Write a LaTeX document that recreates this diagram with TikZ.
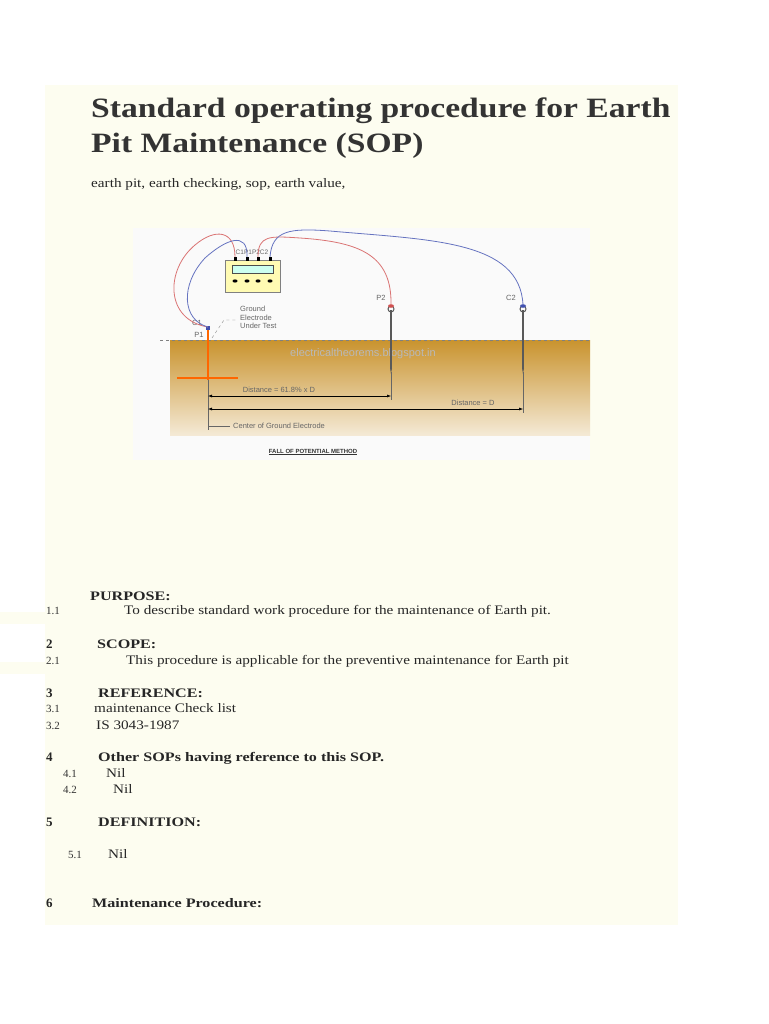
\documentclass[tikz,border=0pt]{standalone}
\usepackage{fontspec}
\setmainfont{Liberation Serif}
\newfontfamily\sansf{Liberation Sans}
\usetikzlibrary{arrows.meta}
\definecolor{cream}{HTML}{FDFDF0}
\definecolor{soil}{HTML}{C9932E}
\definecolor{wred}{HTML}{D05050}
\definecolor{wblue}{HTML}{4050B0}
\newcommand\wbody[1]{\scalebox{1.17}[1]{#1}}
\newcommand\wbold[1]{\scalebox{1.24}[1]{#1}}
\tikzset{
 body/.style={anchor=base west,font=\fontsize{13}{15}\selectfont,inner sep=0,text=black!85},
 num/.style={anchor=base west,font=\fontsize{11}{13}\selectfont,inner sep=0,text=black!80},
 head/.style={anchor=base west,font=\fontsize{13}{15}\selectfont\bfseries,inner sep=0,text=black!85},
 lbl/.style={font=\sansf\fontsize{7.5}{8.5}\selectfont,text=gray!80!black,inner sep=0},
 redw/.style={wred!80,line width=0.8pt},
 bluew/.style={wblue!80,line width=0.8pt},
 dim/.style={line width=0.5pt},
}
\begin{document}
\begin{tikzpicture}[x=1pt,y=-1pt]
\useasboundingbox (0,0) rectangle (768,1024);
\fill[white] (0,0) rectangle (768,1024);
\fill[cream] (45,85) rectangle (678,925);
\fill[cream] (0,612) rectangle (45,624);
\fill[cream] (0,662) rectangle (45,674);
% title
\node[anchor=base west,inner sep=0,font=\fontsize{28}{32}\selectfont\bfseries,text=black!80] (t1) at (91,118) {\scalebox{1.2}[1]{Standard operating procedure for Earth}};
\node[anchor=base west,inner sep=0,font=\fontsize{28}{32}\selectfont\bfseries,text=black!80] (t2) at (91,153) {\scalebox{1.2}[1]{Pit Maintenance (SOP)}};
\node[body] (tags) at (91,188) {\wbody{earth pit, earth checking, sop, earth value,}};
% diagram
\fill[white!96!gray] (133,228) rectangle (590,460);
\shade[top color=soil,bottom color=soil!20] (170,340) rectangle (590,435);
\draw[gray,dashed,line width=0.4pt] (160,340) -- (590,340);
\node[font=\sansf\fontsize{11}{12}\selectfont,text=gray!55] (wm) at (363,354) {electricaltheorems.blogspot.in};
% instrument
\node[draw=gray,fill=yellow!30,minimum width=55pt,minimum height=32pt,inner sep=0] (meter) at (252.5,276) {};
\node[draw=black!70,fill=green!30!cyan!20,minimum width=41pt,minimum height=8pt,inner sep=0] (screen) at (252.5,269) {};
\foreach \i/\x in {1/235,2/247,3/258,4/270}{
 \fill (\x,281) ellipse (2.5pt and 1.6pt);
 \fill (\x-1.5,257) rectangle (\x+1.5,261);
 \coordinate (T\i) at (\x,257);
}
\node[lbl,font=\sansf\fontsize{6.5}{7}\selectfont] (tl) at (252,252) {C1P1P2C2};
% electrode
\draw[orange!80!red,line width=2.5pt] (208,330) -- (208,380);
\draw[orange!80!red,line width=2.5pt] (177,378) -- (238,378);
\fill[wblue] (206,326) rectangle (210,330);
\coordinate (E) at (208,327);
\node[lbl] (c1) at (197,323) {C1};
\node[lbl] (p1) at (199,335) {P1};
\node[lbl,align=left,anchor=north west] (gl) at (240,306) {Ground\\Electrode\\Under Test};
\draw[gray,line width=0.3pt,dashed] (212,338) -- (224,320) -- (238,320);
% spikes
\foreach \n/\x in {P2/391,C2/523}{
 \draw[gray!70!black,line width=2pt] (\x,310) -- (\x,368);
 \fill[gray!70!black] (\x-1,368) -- (\x,374) -- (\x+1,368);
 \draw[gray!70!black,line width=1pt] (\x,309) circle (3pt);
}
\fill[wred] (391,306) ellipse (3pt and 1.8pt);
\fill[wblue] (523,306) ellipse (3pt and 1.8pt);
\coordinate (S2) at (391,305);
\coordinate (S3) at (523,305);
\node[lbl] (p2l) at (381,298) {P2};
\node[lbl] (c2l) at (511,298) {C2};
% wires
\draw[redw] (T1) .. controls (235,230) and (215,228) .. (195,245) .. controls (165,270) and (165,320) .. (E);
\draw[bluew] (T2) .. controls (248,230) and (225,240) .. (205,258) .. controls (180,285) and (182,320) .. (E);
\draw[redw] (T3) .. controls (258,235) and (270,236) .. (300,238) .. controls (360,242) and (392,255) .. (S2);
\draw[bluew] (T4) .. controls (272,230) and (290,228) .. (330,231) .. controls (430,240) and (520,240) .. (S3);
% dimensions
\draw[gray!80!black,line width=0.4pt] (208,380) -- (208,430);
\draw[gray!80!black,line width=0.4pt] (391,372) -- (391,400);
\draw[gray!80!black,line width=0.4pt] (523,372) -- (523,413);
\draw[dim,{Latex[length=4pt]}-{Latex[length=4pt]}] (208,396) -- (391,396);
\draw[dim,{Latex[length=4pt]}-{Latex[length=4pt]}] (208,409) -- (523,409);
\node[lbl] (d1) at (279,390) {Distance = 61.8\% x D};
\node[lbl] (d2) at (473,403) {Distance = D};
\draw[gray!80!black,line width=0.4pt] (208,426) -- (230,426);
\node[lbl,anchor=west] (cge) at (233,426) {Center of Ground Electrode};
\node[lbl,font=\sansf\bfseries\fontsize{6}{7}\selectfont,text=black!80] (cap) at (313,452) {\underline{FALL OF POTENTIAL METHOD}};
% body text
\node[head] (h1) at (90,600) {\wbold{PURPOSE:}};
\node[num] (n11) at (46,614) {1.1};
\node[body] (b11) at (124,614) {\wbody{To describe standard work procedure for the maintenance of Earth pit.}};
\node[head] (n2) at (46,648) {2};
\node[head] (h2) at (97,648) {\wbold{SCOPE:}};
\node[num] (n21) at (46,664) {2.1};
\node[body] (b21) at (126,664) {\wbody{This procedure is applicable for the preventive maintenance for Earth pit}};
\node[head] (n3) at (46,697) {3};
\node[head] (h3) at (98,697) {\wbold{REFERENCE:}};
\node[num] (n31) at (46,712) {3.1};
\node[body] (b31) at (94,712) {\wbody{maintenance Check list}};
\node[num] (n32) at (46,729) {3.2};
\node[body] (b32) at (96,729) {\wbody{IS 3043-1987}};
\node[head] (n4) at (46,761) {4};
\node[head] (h4) at (98,761) {\wbold{Other SOPs having reference to this SOP.}};
\node[num] (n41) at (63,777) {4.1};
\node[body] (b41) at (106,777) {\wbody{Nil}};
\node[num] (n42) at (63,793) {4.2};
\node[body] (b42) at (113,793) {\wbody{Nil}};
\node[head] (n5) at (46,826) {5};
\node[head] (h5) at (98,826) {\wbold{DEFINITION:}};
\node[num] (n51) at (68,858) {5.1};
\node[body] (b51) at (108,858) {\wbody{Nil}};
\node[head] (n6) at (46,907) {6};
\node[head] (h6) at (92,907) {\wbold{Maintenance Procedure:}};
\end{tikzpicture}
\end{document}
